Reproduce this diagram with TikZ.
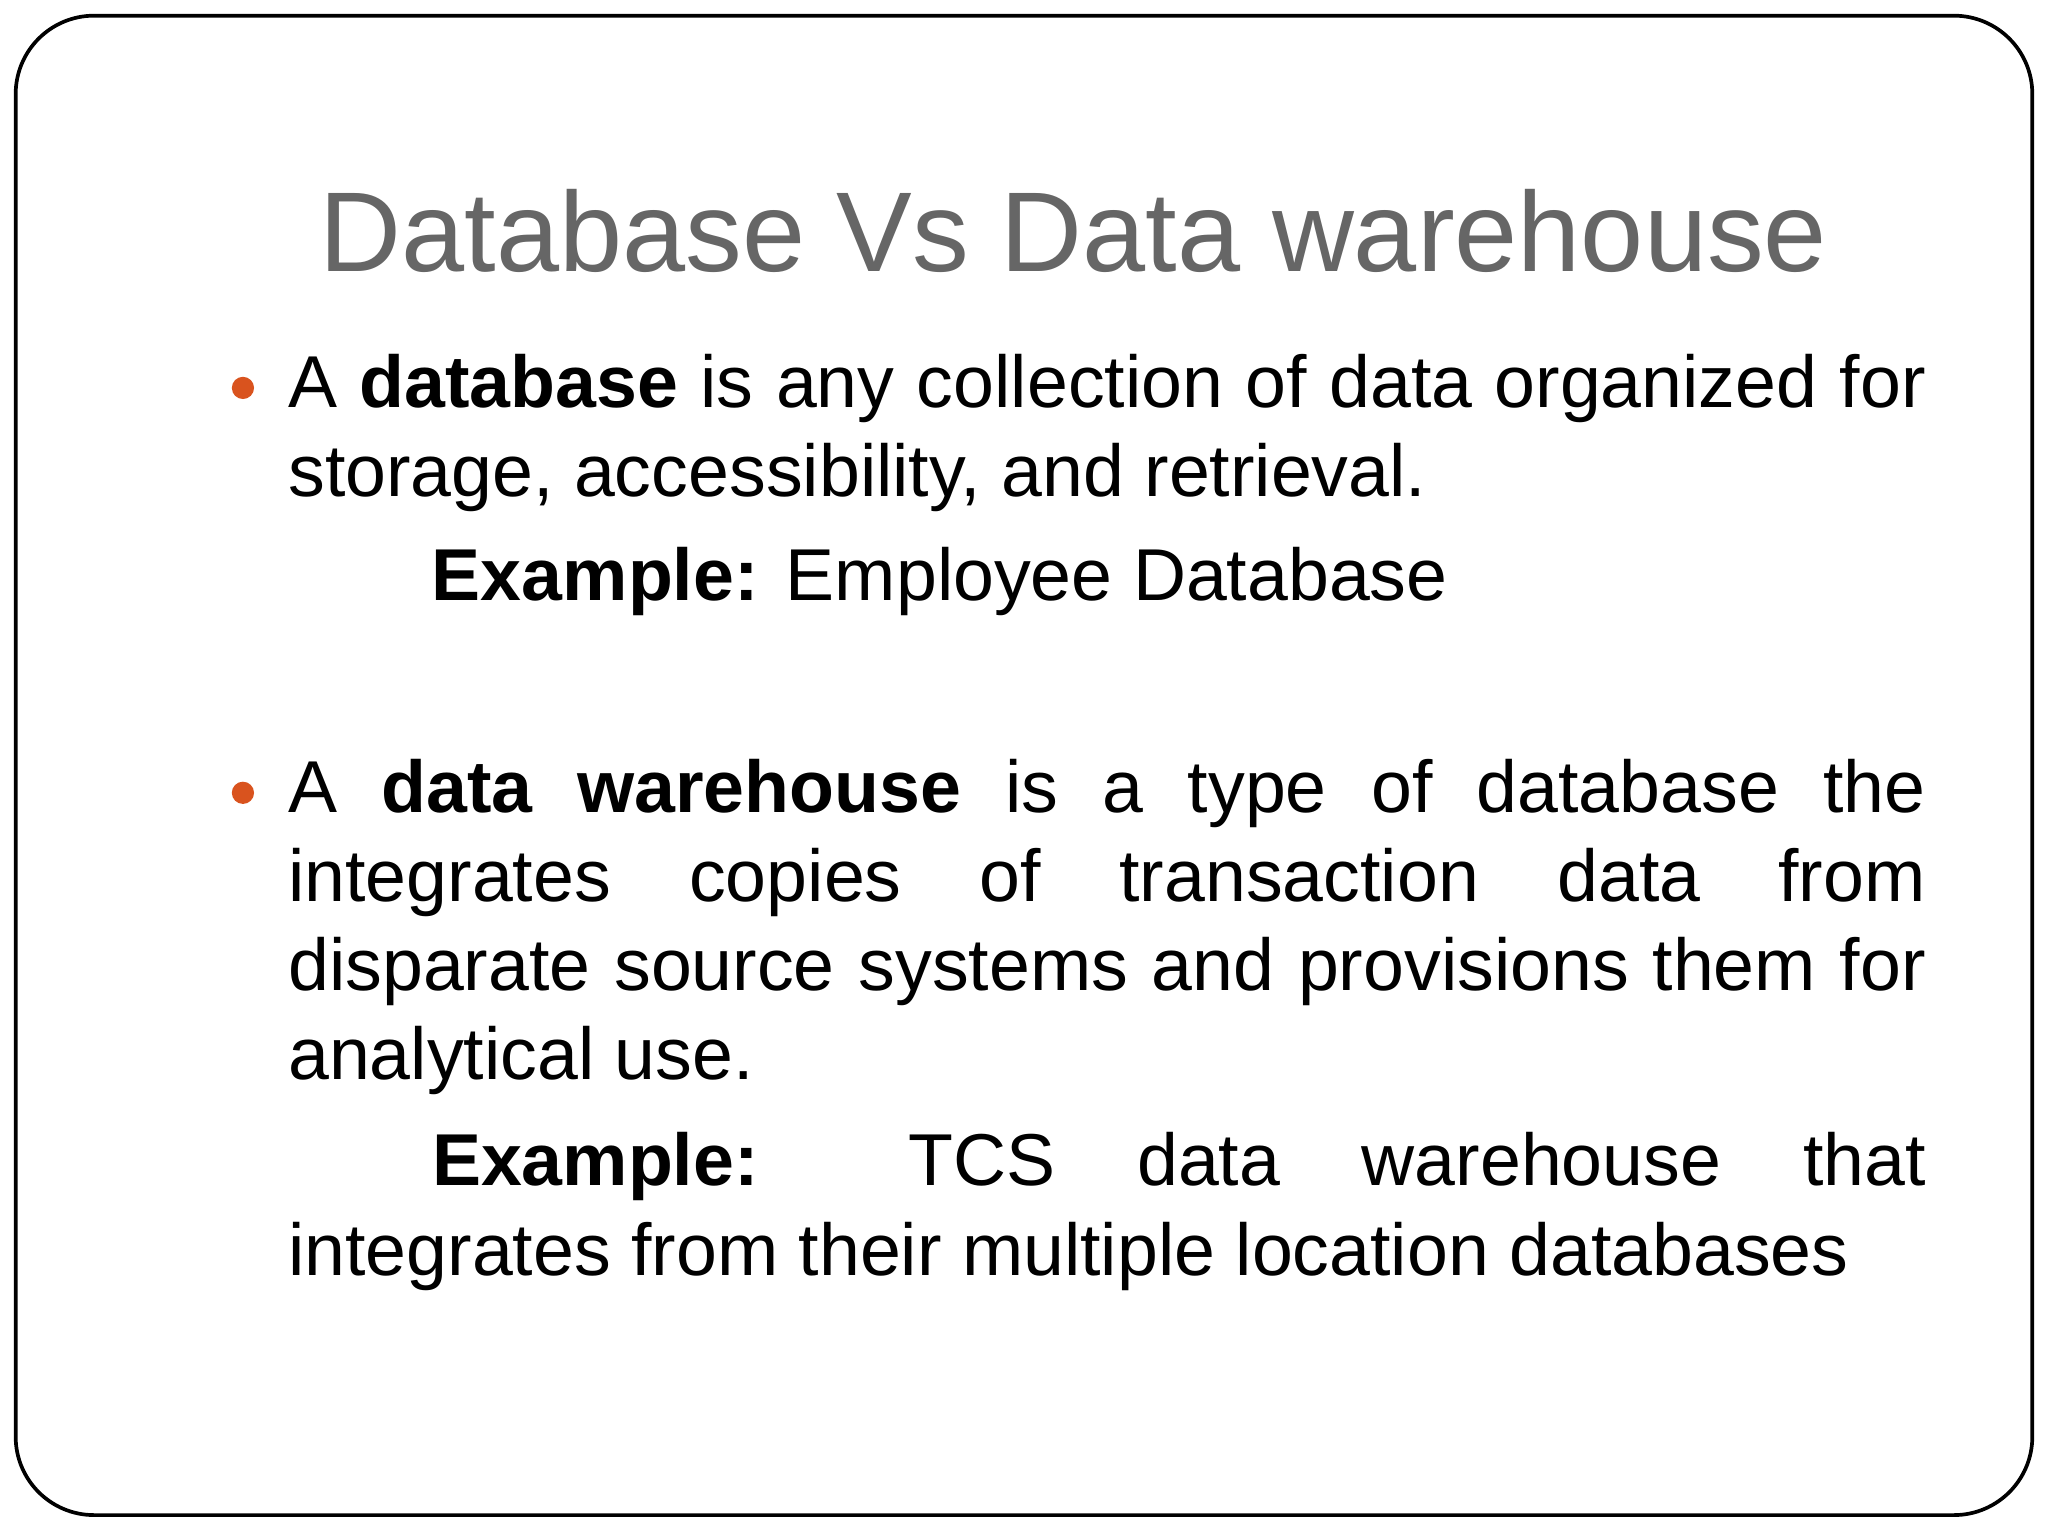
\documentclass[tikz,border=0pt]{standalone}
\usepackage{fontspec}
\setmainfont{Liberation Sans}
\definecolor{titlegray}{HTML}{666666}
\definecolor{bulletorange}{HTML}{D9531E}
\begin{document}
\begin{tikzpicture}[x=0.01cm,y=-0.01cm,
  body/.style={anchor=base west,inner sep=0pt,font=\fontsize{16}{19.4}\selectfont},
  dot/.style={circle,fill=bulletorange,inner sep=0pt,minimum size=0.17cm}]
\useasboundingbox (0,0) rectangle (1568,1176);
\draw[line width=0.8pt,rounded corners=0.6cm] (12,12) rectangle (1556,1160);
\node (title) [anchor=base,inner sep=0pt,text=titlegray,font=\fontsize{24.7}{30}\selectfont] at (822,208) {Database Vs Data warehouse};
\node (b1) [dot] at (186,297) {};
\node (p1) [body] at (220,312) {\parbox[t]{12.53cm}{\fontsize{16}{19.4}\selectfont\hyphenpenalty=10000 A \textbf{database} is any collection of data organized for\linebreak storage, accessibility, and retrieval.}};
\node (e1) [body] at (330,460) {\textbf{Example:} Employee Database};
\node (b2) [dot] at (186,607) {};
\node (p2) [body] at (220,622) {\parbox[t]{12.53cm}{\fontsize{16}{19.4}\selectfont\hyphenpenalty=10000 A \textbf{data warehouse} is a type of database the\linebreak integrates copies of transaction data from\linebreak disparate source systems and provisions them for\linebreak analytical use.}};
\node (e2) [body] at (220,908) {\parbox[t]{12.53cm}{\fontsize{16}{19.4}\selectfont\hyphenpenalty=10000\hspace*{1.1cm}\textbf{Example:} TCS data warehouse that\linebreak integrates from their multiple location databases}};
\end{tikzpicture}
\end{document}
